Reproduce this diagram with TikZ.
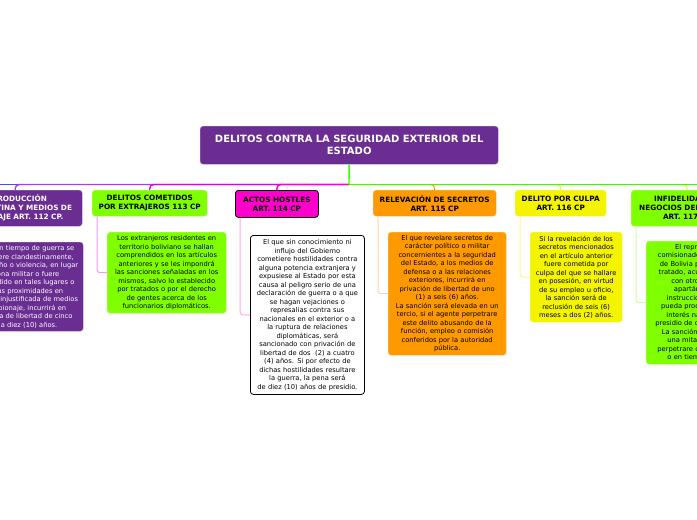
\documentclass[tikz,border=0pt]{standalone}
\usepackage{fontspec}
\setmainfont{DejaVu Sans}
\usetikzlibrary{positioning}
\definecolor{moradoT}{HTML}{6A2D91}
\definecolor{lima}{HTML}{80FF00}
\definecolor{fucsia}{HTML}{FF00CC}
\definecolor{naranja}{HTML}{FF9900}
\definecolor{amarillo}{HTML}{F4F400}
\definecolor{azulR}{HTML}{4848FF}
\definecolor{violetaR}{HTML}{A83CF0}
\definecolor{magentaR}{HTML}{E000E8}
\definecolor{verdeR}{HTML}{33FF00}
\definecolor{limaR}{HTML}{D4FF3C}
\tikzstyle{titulo} = [rectangle, rounded corners=3pt, anchor=north west, fill=moradoT, draw=moradoT!60!white, text=white, align=center, inner xsep=4pt, font=\fontsize{10}{12}\selectfont\bfseries]
\tikzstyle{tema} = [rectangle, rounded corners=3pt, anchor=north west, inner xsep=3pt, inner ysep=2pt, align=center, font=\fontsize{7.3}{9}\selectfont\bfseries]
\tikzstyle{detalle} = [rectangle, rounded corners=3pt, anchor=north west, inner xsep=3pt, inner ysep=2pt, align=center, font=\fontsize{6.7}{8.5}\selectfont]
\tikzstyle{rama} = [rounded corners=4pt, line width=1pt]
\tikzstyle{bus} = [line width=1.4pt]
\tikzstyle{hijo} = [rounded corners=3pt, line width=1pt]

\begin{document}
\begin{tikzpicture}[x=1pt, y=-1pt]
\useasboundingbox (0,0) rectangle (697,520);
\fill[white] (0,0) rectangle (697,520);
\clip (0,0) rectangle (697,520);

\node (tit) [titulo, minimum width=298pt, minimum height=38pt, text width=290pt] at (200,126) {DELITOS CONTRA LA SEGURIDAD EXTERIOR DEL\\ESTADO};
\coordinate (hub) at (349,184.5);
\coordinate (finI) at (-10,184.5);
\coordinate (finD) at (710,184.5);

\node (h1) [tema, fill=moradoT, draw=moradoT!60!white, text=white, minimum width=134pt, minimum height=36pt, text width=128pt] at (-52,190) {INTRODUCCIÓN\\CLANDESTINA Y MEDIOS DE\\ESPIONAJE ART. 112 CP.};
\node (h2) [tema, fill=lima, draw=lima!60!white, minimum width=115pt, minimum height=26pt, text width=109pt] at (92,190) {DELITOS COMETIDOS\\POR EXTRAJEROS 113 CP};
\node (h3) [tema, fill=fucsia, draw=black, line width=0.8pt, minimum width=83pt, minimum height=27pt, text width=77pt] at (235,190) {ACTOS HOSTLES\\ART. 114 CP};
\node (h4) [tema, fill=naranja, draw=naranja!60!white, minimum width=123pt, minimum height=26pt, text width=117pt] at (373,190) {RELEVACIÓN DE SECRETOS\\ART. 115 CP};
\node (h5) [tema, fill=amarillo, draw=amarillo!60!white, minimum width=91pt, minimum height=26pt, text width=85pt] at (515,190) {DELITO POR CULPA\\ART. 116 CP};
\node (h6) [tema, fill=lima, draw=lima!60!white, minimum width=112pt, minimum height=36pt, text width=106pt] at (631,190) {INFIDELIDAD EN\\NEGOCIOS DEL ESTADO\\ART. 117 CP};

\node (c1) [detalle, fill=moradoT, draw=moradoT!60!white, text=white, minimum width=120pt, minimum height=89pt, text width=114pt] at (-37,242) {El que en tiempo de guerra se\\introdujere clandestinamente,\\con engaño o violencia, en lugar\\o zona militar o fuere\\sorprendido en tales lugares o\\en sus proximidades en\\posesión injustificada de medios\\de espionaje, incurrirá en\\privativa de libertad de cinco\\(5) a diez (10) años.};
\node (c2) [detalle, fill=lima, draw=lima!60!white, minimum width=119pt, minimum height=81pt, text width=113pt] at (107,232) {Los extranjeros residentes en\\territorio boliviano se hallan\\comprendidos en los artículos\\anteriores y se les impondrá\\las sanciones señaladas en los\\mismos, salvo lo establecido\\por tratados o por el derecho\\de gentes acerca de los\\funcionarios diplomáticos.};
\node (c3) [detalle, fill=white, draw=black, line width=0.8pt, minimum width=114pt, minimum height=159pt, text width=108pt] at (250,235) {El que sin conocimiento ni\\influjo del Gobierno\\cometiere hostilidades contra\\alguna potencia extranjera y\\expusiese al Estado por esta\\causa al peligro serio de una\\declaración de guerra o a que\\se hagan vejaciones o\\represalias contra sus\\nacionales en el exterior o a\\la ruptura de relaciones\\diplomáticas, será\\sancionado con privación de\\libertad de dos~~(2) a cuatro\\(4) años. Si por efecto de\\dichas hostilidades resultare\\la guerra, la pena será\\de diez (10) años de presidio.};
\node (c4) [detalle, fill=naranja, draw=naranja!60!white, minimum width=118pt, minimum height=123pt, text width=112pt] at (388,232) {El que revelare secretos de\\carácter político o militar\\concernientes a la seguridad\\del Estado, a los medios de\\defensa o a las relaciones\\exteriores, incurrirá en\\privación de libertad de uno\\(1) a seis (6) años.\\La sanción será elevada en un\\tercio, si el agente perpetrare\\este delito abusando de la\\función, empleo o comisión\\conferidos por la autoridad\\pública.};
\node (c5) [detalle, fill=amarillo, draw=amarillo!60!white, minimum width=92pt, minimum height=90pt, text width=86pt] at (530,232) {Si la revelación de los\\secretos mencionados\\en el artículo anterior\\fuere cometida por\\culpa del que se hallare\\en posesión, en virtud\\de su empleo u oficio,\\la sanción será de\\reclusión de seis (6)\\meses a dos (2) años.};
\node (c6) [detalle, fill=lima, draw=lima!60!white, minimum width=120pt, minimum height=123pt, text width=114pt] at (646,241) {El representante o\\comisionado por el Gobierno\\de Bolivia para negociar un\\tratado, acuerdo o convenio\\con otro Estado que,\\apartándose de las\\instrucciones recibidas,\\pueda producir perjuicio al\\interés nacional, sufrirá\\presidio de dos (2) a ocho (8).\\La sanción se agravará en\\una mitad, si el agente\\perpetrare con fines de lucro\\o en tiempo de guerra.};

\draw[bus, azulR] (hub) -- (finI);
\draw[rama, bus, violetaR] (hub) -| (h1.north);
\draw[rama, bus, magentaR] (hub) -| (h2.north);
\draw[rama, bus, fucsia] (hub) -| (h3.north);
\draw[rama, naranja] (hub) -| (h4.north);
\draw[rama, amarillo] (hub) -| (h5.north);
\draw[rama, limaR] (hub) -| (h6.north);
\draw[bus, verdeR] (hub) -- (finD);
\draw[bus, verdeR] (tit.south) -- (hub);

\draw[hijo, violetaR!45!white] ([xshift=5pt]h1.south west) |- (c1.west);
\draw[hijo, magentaR!40!white] ([xshift=5pt]h2.south west) |- (c2.west);
\draw[hijo, fucsia!35!white] ([xshift=5pt]h3.south west) |- (c3.west);
\draw[hijo, naranja!40!white] ([xshift=5pt]h4.south west) |- (c4.west);
\draw[hijo, amarillo!45!white] ([xshift=5pt]h5.south west) |- (c5.west);
\draw[hijo, lima!40!white] ([xshift=5pt]h6.south west) |- (c6.west);
\end{tikzpicture}
\end{document}
